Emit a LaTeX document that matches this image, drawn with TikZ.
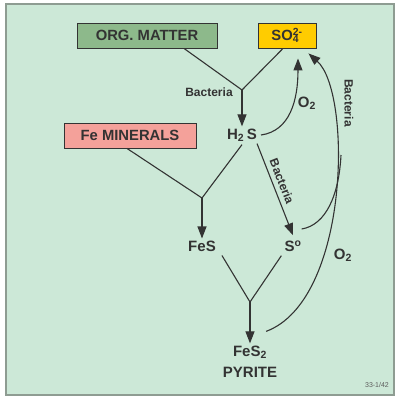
\documentclass[tikz,border=0pt]{standalone}
\usepackage{fontspec}
\setmainfont{Liberation Sans}
\usetikzlibrary{arrows.meta,calc}
\definecolor{bg}{HTML}{CCE8D7}
\definecolor{frame}{HTML}{8E9C92}
\definecolor{ink}{HTML}{333333}
\definecolor{orgfill}{HTML}{8DB98B}
\definecolor{sofill}{HTML}{FFCC00}
\definecolor{fefill}{HTML}{F4A19A}
\tikzset{
  box/.style={draw=ink, line width=0.9pt, minimum height=25pt, inner sep=0pt, font=\fontsize{14.8}{16}\selectfont\bfseries, text=ink},
  chem/.style={font=\fontsize{15}{17}\selectfont\bfseries, text=ink, inner sep=2pt},
  lab/.style={font=\fontsize{12}{14}\selectfont\bfseries, text=ink, inner sep=1.5pt},
  conn/.style={draw=ink, line width=1.1pt},
  arr/.style={conn, -{Triangle[length=12pt,width=9pt]}},
}
\begin{document}
\begin{tikzpicture}[x=1pt,y=-1pt]
\useasboundingbox (0,0) rectangle (400,402);
\fill[white] (0,0) rectangle (400,402);
\draw[frame, fill=bg, line width=1.3pt] (6,4) rectangle (394,395);

% boxes
\node[box, fill=orgfill, minimum width=140pt] (org) at (147,35.5) {ORG. MATTER};
\node[box, fill=sofill, minimum width=58pt] (so4) at (287,35.5) {SO\rlap{\textsubscript{4}}\textsuperscript{2-}\hspace{2pt}};
\node[box, fill=fefill, minimum width=132pt] (fe) at (130,135.5) {Fe MINERALS};

% chemical species
\node[chem] (h2s) at (242,135) {H\textsubscript{2}\,S};
\node[chem] (fes) at (202,246) {FeS};
\node[chem] (s0) at (293,246) {S\textsuperscript{o}};
\node[chem] (fes2) at (250,352) {FeS\textsubscript{2}};
\node[chem] (pyr) at (250,372) {PYRITE};

% junctions
\coordinate (j1) at (242,90);
\coordinate (j2) at (202,198);
\coordinate (j3) at (250,302);

% org + so4 -> h2s
\draw[conn] ($(org.south)+(37,0)$) -- (j1);
\draw[conn] ($(so4.south)+(-4,0)$) -- (j1);
\draw[arr] (j1) -- (h2s.north);
\node[lab] (b1) at (209,92) {Bacteria};

% h2s -> so4 (O2)
\draw[arr] ($(h2s.east)+(2,0)$) .. controls (290,131) and (298,100) .. ($(so4.south)+(11,10)$);
\node[chem] (o2a) at (307,103) {O\textsubscript{2}};

% fe minerals + h2s -> FeS
\draw[conn] ($(fe.south)+(-3,0)$) -- (j2);
\draw[conn] ($(h2s.south)+(0,1)$) -- (j2);
\draw[arr] (j2) -- (fes.north);

% h2s -> S (bacteria)
\draw[arr] ($(h2s.south east)+(-2,0)$) -- node[lab, sloped, above=3pt, pos=0.45] (b2) {Bacteria} ($(s0.north)+(0,-3)$);

% FeS + S -> FeS2
\draw[conn] ($(fes.south east)+(4,2)$) -- (j3);
\draw[conn] ($(s0.south west)+(-1,2)$) -- (j3);
\draw[arr] (j3) -- (fes2.north);

% FeS2 -> SO4 (bacteria, O2)
\draw[arr] ($(fes2.north east)+(-3,-12)$) .. controls (350,300) and (352,92) .. ($(so4.south east)+(-8,5)$);
\draw[conn] ($(s0.east)+(-2,-17)$) .. controls (326,225) and (339,195) .. (341,155);
\node[lab, rotate=-90] (b3) at (349,103) {Bacteria};
\node[chem] (o2b) at (343,255) {O\textsubscript{2}};

% figure number
\node[font=\fontsize{7}{8}\selectfont, text=ink!80, inner sep=0pt] (num) at (377,385) {33-1/42};
\end{tikzpicture}
\end{document}
